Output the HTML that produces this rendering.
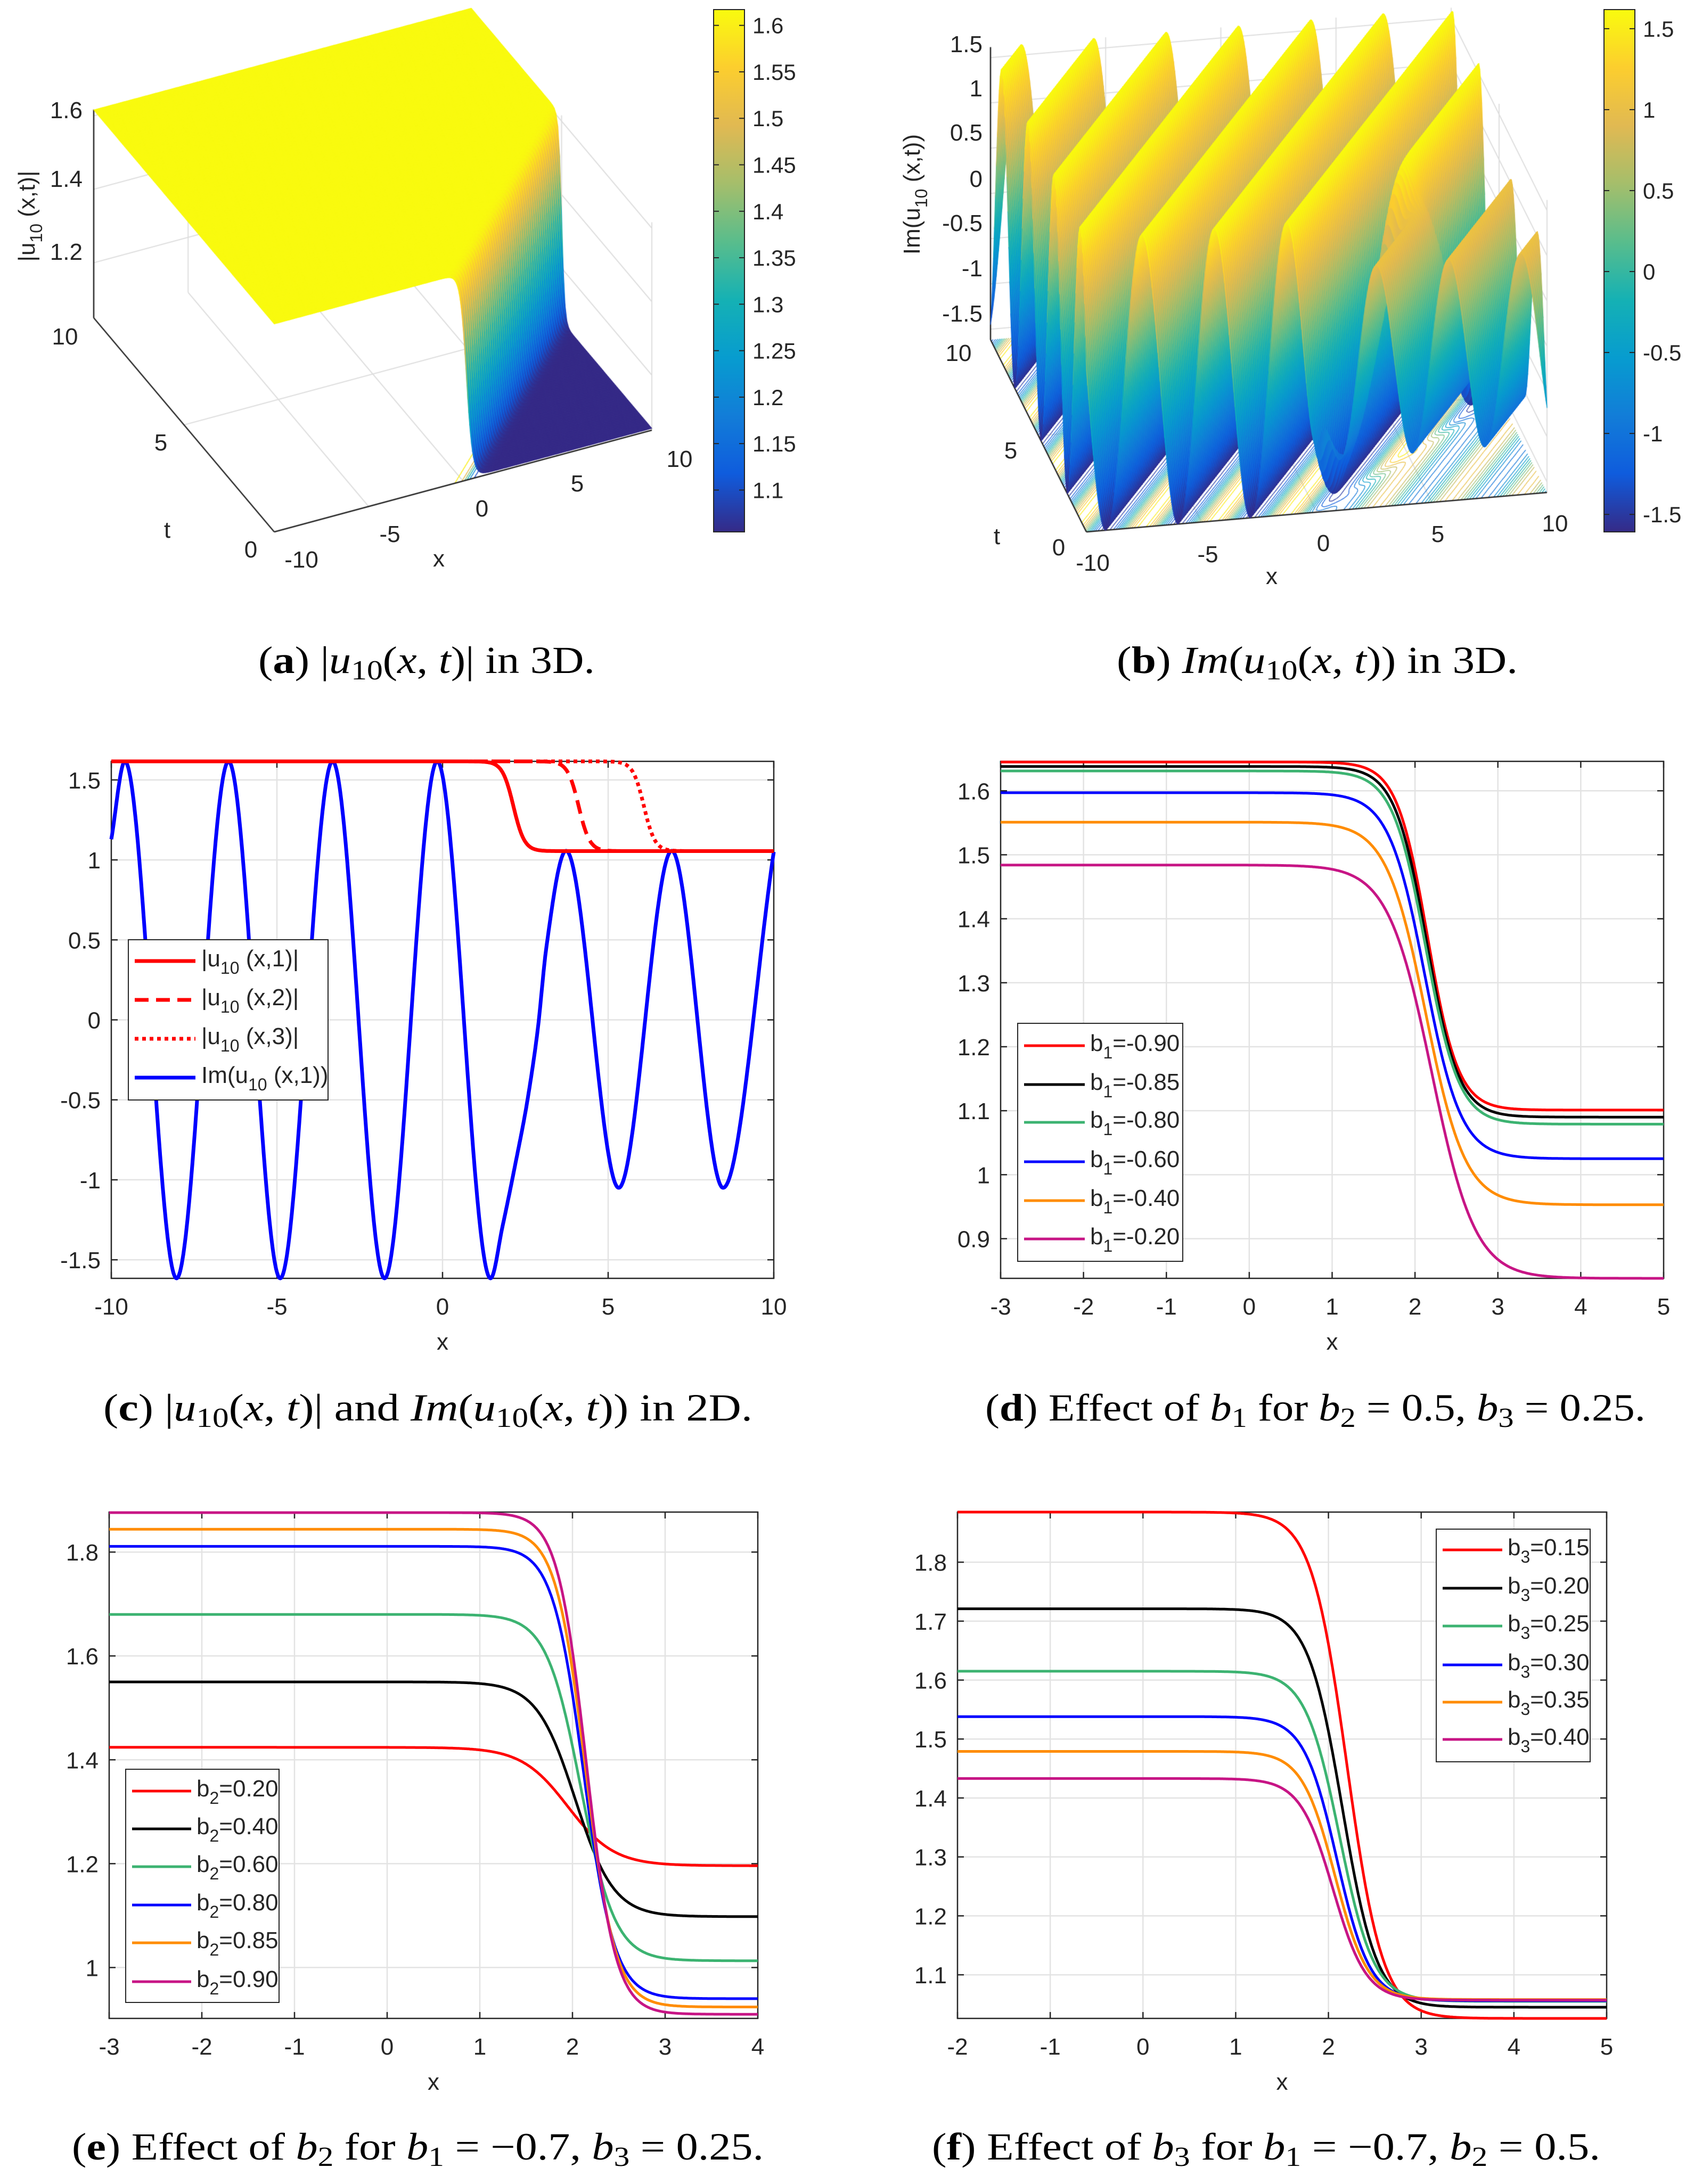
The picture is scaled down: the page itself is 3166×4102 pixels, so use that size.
<!DOCTYPE html>
<html><head><meta charset="utf-8"><title>u10 figure</title>
<style>
html,body{margin:0;padding:0;background:#fff;}
#wrap{position:relative;width:3166px;height:4102px;overflow:hidden;background:#fff;}
canvas{position:absolute;top:0;}
#fig{position:absolute;left:0;top:0;}
text{font-family:"Liberation Sans",sans-serif;fill:#262626;}
.cap{font-family:"Liberation Serif",serif;fill:#000;font-size:72px;}
</style></head>
<body>
<div id="wrap">
<canvas id="cva" width="1600" height="1300" style="left:0px"></canvas>
<canvas id="cvb" width="1566" height="1300" style="left:1600px"></canvas>
<svg id="fig" xmlns="http://www.w3.org/2000/svg" width="3166" height="4102">
<text class="cap" x="485" y="1264" textLength="632" lengthAdjust="spacingAndGlyphs">(<tspan font-weight="bold">a</tspan>) |<tspan font-style="italic">u</tspan><tspan font-size="52" dy="12">10</tspan><tspan dy="-12">(</tspan><tspan font-style="italic">x</tspan>, <tspan font-style="italic">t</tspan>)| in 3D.</text>
<text class="cap" x="2097" y="1264" textLength="753" lengthAdjust="spacingAndGlyphs">(<tspan font-weight="bold">b</tspan>) <tspan font-style="italic">Im</tspan>(<tspan font-style="italic">u</tspan><tspan font-size="52" dy="12">10</tspan><tspan dy="-12">(</tspan><tspan font-style="italic">x</tspan>, <tspan font-style="italic">t</tspan>)) in 3D.</text>
<text class="cap" x="194" y="2668" textLength="1219" lengthAdjust="spacingAndGlyphs">(<tspan font-weight="bold">c</tspan>) |<tspan font-style="italic">u</tspan><tspan font-size="52" dy="12">10</tspan><tspan dy="-12">(</tspan><tspan font-style="italic">x</tspan>, <tspan font-style="italic">t</tspan>)| and <tspan font-style="italic">Im</tspan>(<tspan font-style="italic">u</tspan><tspan font-size="52" dy="12">10</tspan><tspan dy="-12">(</tspan><tspan font-style="italic">x</tspan>, <tspan font-style="italic">t</tspan>)) in 2D.</text>
<text class="cap" x="1850" y="2668" textLength="1240" lengthAdjust="spacingAndGlyphs">(<tspan font-weight="bold">d</tspan>) Effect of <tspan font-style="italic">b</tspan><tspan font-size="52" dy="12">1</tspan><tspan dy="-12"> for </tspan><tspan font-style="italic">b</tspan><tspan font-size="52" dy="12">2</tspan><tspan dy="-12"> = 0.5,  </tspan><tspan font-style="italic">b</tspan><tspan font-size="52" dy="12">3</tspan><tspan dy="-12"> = 0.25.</tspan></text>
<text class="cap" x="135" y="4056" textLength="1299" lengthAdjust="spacingAndGlyphs">(<tspan font-weight="bold">e</tspan>) Effect of <tspan font-style="italic">b</tspan><tspan font-size="52" dy="12">2</tspan><tspan dy="-12"> for </tspan><tspan font-style="italic">b</tspan><tspan font-size="52" dy="12">1</tspan><tspan dy="-12"> = −0.7,  </tspan><tspan font-style="italic">b</tspan><tspan font-size="52" dy="12">3</tspan><tspan dy="-12"> = 0.25.</tspan></text>
<text class="cap" x="1750" y="4056" textLength="1255" lengthAdjust="spacingAndGlyphs">(<tspan font-weight="bold">f</tspan>) Effect of <tspan font-style="italic">b</tspan><tspan font-size="52" dy="12">3</tspan><tspan dy="-12"> for </tspan><tspan font-style="italic">b</tspan><tspan font-size="52" dy="12">1</tspan><tspan dy="-12"> = −0.7,  </tspan><tspan font-style="italic">b</tspan><tspan font-size="52" dy="12">2</tspan><tspan dy="-12"> = 0.5.</tspan></text>
</svg>
</div>
<script>
// ---------- data ----------
const cImX=[-10,-9.59,-8.03,-6.46,-4.90,-3.32,-1.75,-0.16,1.45,1.81,2.22,2.55,2.88,3.13,3.73,5.32,6.92,8.47,10];
const cImY=[1.129,1.616,-1.616,1.616,-1.616,1.616,-1.616,1.616,-1.616,-1.292,-0.878,-0.519,-0.05,0.446,1.057,-1.05,1.057,-1.05,1.05];
const cAbsLeft=[1.616,1.616,1.616];
const cAbsRight=[1.055,1.055,1.055];
const cAbsCenter=[2.14,4.11,6.08];
const cAbsSteep=[3,3,3];
const cLegendTimes=[1,2,3];
const dB1=[-0.90,-0.85,-0.80,-0.60,-0.40,-0.20];
const dLeft=[1.645,1.638,1.631,1.597,1.551,1.484];
const dRight=[1.101,1.090,1.079,1.025,0.953,0.838];
const dCenter=[2.15,2.14,2.13,2.12,2.13,2.20];
const dSteep=[2.7,2.6,2.5,2.3,2.1,1.9];
const eB2=[0.20,0.40,0.60,0.80,0.85,0.90];
const eLeft=[1.424,1.550,1.680,1.811,1.844,1.876];
const eRight=[1.196,1.098,1.013,0.940,0.924,0.910];
const eCenter=[1.95,2.03,2.09,2.12,2.14,2.15];
const eSteep=[2.0,2.4,2.7,3.0,3.1,3.2];
const fB3=[0.15,0.20,0.25,0.30,0.35,0.40];
const fLeft=[1.885,1.721,1.615,1.538,1.479,1.433];
const fRight=[1.026,1.045,1.055,1.056,1.058,1.057];
const fCenter=[2.20,2.15,2.12,2.09,2.07,2.05];
const fSteep=[2.6,2.7,2.7,2.8,2.8,2.8];
const cXTicks=[-10,-5,0,5,10], cYTicks=[-1.5,-1,-0.5,0,0.5,1,1.5];
const dXTicks=[-3,-2,-1,0,1,2,3,4,5], dYTicks=[0.9,1,1.1,1.2,1.3,1.4,1.5,1.6];
const eXTicks=[-3,-2,-1,0,1,2,3,4], eYTicks=[1,1.2,1.4,1.6,1.8];
const fXTicks=[-2,-1,0,1,2,3,4,5], fYTicks=[1.1,1.2,1.3,1.4,1.5,1.6,1.7,1.8];
const surfHigh=[1.616], surfLow=[1.055];
const stepOffset=[0.17], stepSpeed=[1.97], stepSteep=[3];
const crestSpeed=[1.15], phaseShift=[1.5];
const aBarTicks=[1.1,1.15,1.2,1.25,1.3,1.35,1.4,1.45,1.5,1.55,1.6];
const bBarTicks=[-1.5,-1,-0.5,0,0.5,1,1.5];

const COLS=['#ff0000','#000000','#3cb371','#0000ff','#ff8c00','#c71585'];
const NS='http://www.w3.org/2000/svg';
const svg=document.getElementById('fig');

function mk(tag,attrs,name,parent){
  const el=document.createElementNS(NS,tag);
  for(const k in attrs) el.setAttribute(k,attrs[k]);
  
  
  (parent||svg).appendChild(el);
  return el;
}
function fmt(v){return String(+v.toFixed(2));}
function step(x,L,R,c,k){return R+(L-R)*(1-Math.tanh(k*(x-c)))/2;}
function mono(xs,ys){
  const n=xs.length,d=[],m=new Array(n);
  for(let i=0;i<n-1;i++)d.push((ys[i+1]-ys[i])/(xs[i+1]-xs[i]));
  m[0]=d[0];m[n-1]=d[n-2];
  for(let i=1;i<n-1;i++)m[i]=(d[i-1]*d[i]<=0)?0:(d[i-1]+d[i])/2;
  for(let i=0;i<n-1;i++){
    if(d[i]===0){m[i]=0;m[i+1]=0;continue;}
    const a=m[i]/d[i],b=m[i+1]/d[i],s=a*a+b*b;
    if(s>9){const t=3/Math.sqrt(s);m[i]=t*a*d[i];m[i+1]=t*b*d[i];}
  }
  return function(x){
    let i=0;while(i<n-2&&x>xs[i+1])i++;
    const h=xs[i+1]-xs[i],t=(x-xs[i])/h,t2=t*t,t3=t2*t;
    return (2*t3-3*t2+1)*ys[i]+(t3-2*t2+t)*h*m[i]+(-2*t3+3*t2)*ys[i+1]+(t3-t2)*h*m[i+1];
  };
}

function axes2d(p,name){
  const g=mk('g',{},name);
  const sx=v=>p.L+(v-p.x0)/(p.x1-p.x0)*(p.R-p.L);
  const sy=v=>p.B-(v-p.y0)/(p.y1-p.y0)*(p.B-p.T);
  p.xt.forEach(v=>{const X=sx(v);if(X>p.L+2&&X<p.R-2){
    mk('line',{x1:X,y1:p.T,x2:X,y2:p.B,stroke:'#e3e3e3','stroke-width':2.5},'x-gridline',g);}});
  p.yt.forEach(v=>{const Y=sy(v);if(Y>p.T+2&&Y<p.B-2){
    mk('line',{x1:p.L,y1:Y,x2:p.R,y2:Y,stroke:'#e3e3e3','stroke-width':2.5},'y-gridline',g);}});
  mk('rect',{x:p.L,y:p.T,width:p.R-p.L,height:p.B-p.T,fill:'none',stroke:'#262626','stroke-width':2.5},'axes-box',g);
  const tl=12;
  p.xt.forEach(v=>{const X=sx(v);
    mk('line',{x1:X,y1:p.B,x2:X,y2:p.B-tl,stroke:'#262626','stroke-width':2.5},'x-tick',g);
    mk('line',{x1:X,y1:p.T,x2:X,y2:p.T+tl,stroke:'#262626','stroke-width':2.5},'x-tick-top',g);
    const t=mk('text',{x:X,y:p.B+68,'text-anchor':'middle','font-size':44},'x-tick-label',g);t.textContent=fmt(v);});
  p.yt.forEach(v=>{const Y=sy(v);
    mk('line',{x1:p.L,y1:Y,x2:p.L+tl,y2:Y,stroke:'#262626','stroke-width':2.5},'y-tick',g);
    mk('line',{x1:p.R,y1:Y,x2:p.R-tl,y2:Y,stroke:'#262626','stroke-width':2.5},'y-tick-right',g);
    const t=mk('text',{x:p.L-20,y:Y+16,'text-anchor':'end','font-size':44},'y-tick-label',g);t.textContent=fmt(v);});
  const xl=mk('text',{x:(p.L+p.R)/2,y:p.B+134,'text-anchor':'middle','font-size':44},'x-axis-title',g);xl.textContent='x';
  return {sx,sy,g};
}
function curve(ax,fn,x0,x1,stroke,w,dash,name){
  let d='';const N=800;
  for(let i=0;i<=N;i++){const x=x0+(x1-x0)*i/N;d+=(i?'L':'M')+ax.sx(x).toFixed(1)+' '+ax.sy(fn(x)).toFixed(1);}
  const a={d:d,fill:'none',stroke:stroke,'stroke-width':w,'stroke-linejoin':'round'};
  if(dash)a['stroke-dasharray']=dash;
  return mk('path',a,name,ax.g);
}
function legend(box,entries,name){
  const g=mk('g',{},name);
  mk('rect',{x:box.x0,y:box.y0,width:box.x1-box.x0,height:box.y1-box.y0,fill:'#fff',stroke:'#262626','stroke-width':2},'legend-box',g);
  entries.forEach((e,i)=>{
    const y=box.ys[i];
    const a={x1:box.lx0,y1:y,x2:box.lx1,y2:y,stroke:e.c,'stroke-width':e.w};
    if(e.dash)a['stroke-dasharray']=e.dash;
    mk('line',a,'legend-swatch',g);
    const t=mk('text',{x:box.tx,y:y+10,'font-size':44},'legend-entry',g);
    t.innerHTML=e.pre+'<tspan font-size="32" dy="14">'+e.sub+'</tspan><tspan dy="-14">'+e.post+'</tspan>';
  });
}

(function(){
  const ax=axes2d({L:209,R:1453,T:1430,B:2401,x0:-10,x1:10,y0:-1.616,y1:1.616,xt:cXTicks,yt:cYTicks},'panel-c-axes');
  const dashes=[null,'26 14','7 7'];
  const fIm=mono(cImX,cImY);
  curve(ax,fIm,-10,10,'#0000ff',7,null,'im-u10-t1-line');
  cAbsCenter.forEach((c,i)=>{curve(ax,x=>step(x,cAbsLeft[i],cAbsRight[i],c,cAbsSteep[i]),-10,10,'#ff0000',7,dashes[i],'abs-u10-t'+cLegendTimes[i]+'-line');});
  const ents=cLegendTimes.map((t,i)=>({c:'#ff0000',w:7,dash:dashes[i],pre:'|u',sub:'10',post:' (x,'+t+')|'}));
  ents.push({c:'#0000ff',w:7,dash:null,pre:'Im(u',sub:'10',post:' (x,1))'});
  legend({x0:241,x1:616,y0:1765,y1:2066,ys:[1805,1878,1951,2024],lx0:253,lx1:367,tx:378},ents,'legend-c');
})();
(function(){
  const ax=axes2d({L:1879,R:3124,T:1430,B:2401,x0:-3,x1:5,y0:0.838,y1:1.646,xt:dXTicks,yt:dYTicks},'panel-d-axes');
  dB1.forEach((b,i)=>curve(ax,x=>step(x,dLeft[i],dRight[i],dCenter[i],dSteep[i]),-3,5,COLS[i],5,null,'b1-'+fmt(b)+'-line'));
  legend({x0:1911,x1:2221,y0:1922,y1:2369,ys:[1964,2037,2108,2182,2255,2327],lx0:1923,lx1:2037,tx:2047},
    dB1.map((b,i)=>({c:COLS[i],w:5,pre:'b',sub:'1',post:'='+b.toFixed(2)})),'legend-d');
})();
(function(){
  const ax=axes2d({L:205,R:1423,T:2840,B:3791,x0:-3,x1:4,y0:0.902,y1:1.877,xt:eXTicks,yt:eYTicks},'panel-e-axes');
  eB2.forEach((b,i)=>curve(ax,x=>step(x,eLeft[i],eRight[i],eCenter[i],eSteep[i]),-3,4,COLS[i],5,null,'b2-'+fmt(b)+'-line'));
  legend({x0:236,x1:524,y0:3323,y1:3761,ys:[3364,3435,3506,3578,3649,3722],lx0:248,lx1:359,tx:369},
    eB2.map((b,i)=>({c:COLS[i],w:5,pre:'b',sub:'2',post:'='+b.toFixed(2)})),'legend-e');
})();
(function(){
  const ax=axes2d({L:1798,R:3017,T:2840,B:3791,x0:-2,x1:5,y0:1.026,y1:1.885,xt:fXTicks,yt:fYTicks},'panel-f-axes');
  fB3.forEach((b,i)=>curve(ax,x=>step(x,fLeft[i],fRight[i],fCenter[i],fSteep[i]),-2,5,COLS[i],5,null,'b3-'+fmt(b)+'-line'));
  legend({x0:2697,x1:2986,y0:2872,y1:3309,ys:[2911,2983,3054,3127,3197,3267],lx0:2709,lx1:2821,tx:2831},
    fB3.map((b,i)=>({c:COLS[i],w:5,pre:'b',sub:'3',post:'='+b.toFixed(2)})),'legend-f');
})();

const PAR=[[53,42,135],[15,92,221],[18,125,216],[7,156,207],[21,177,180],[89,189,140],[165,190,107],[225,185,82],[252,206,46],[249,251,14]];
function parula(f){
  f=Math.max(0,Math.min(1,f));const s=f*(PAR.length-1),i=Math.min(PAR.length-2,Math.floor(s)),u=s-i;
  const a=PAR[i],b=PAR[i+1];
  return 'rgb('+Math.round(a[0]+(b[0]-a[0])*u)+','+Math.round(a[1]+(b[1]-a[1])*u)+','+Math.round(a[2]+(b[2]-a[2])*u)+')';
}
function absU(x,t){return step(x,surfHigh[0],surfLow[0],stepOffset[0]+stepSpeed[0]*t,stepSteep[0]);}
function imU(x,t){
  const xs=stepOffset[0]+stepSpeed[0]*t,w=(1+Math.tanh(stepSteep[0]*(x-xs)))/2;
  const A=surfLow[0]*w+surfHigh[0]*(1-w);
  return A*Math.cos(2*(x+0.16-crestSpeed[0]*(t-1))-phaseShift[0]*w);
}
function render3d(ctx,fn,proj,dep,cmin,cmax,levels,zfloor,grid,clw){
  ctx.strokeStyle='#dedede';ctx.lineWidth=2;
  grid.forEach(s=>{ctx.beginPath();const p=proj(...s[0]),q=proj(...s[1]);ctx.moveTo(p[0],p[1]);ctx.lineTo(q[0],q[1]);ctx.stroke();});
  const dx=0.1,dt=0.1;ctx.lineWidth=clw;ctx.globalAlpha=0.85;
  for(let x=-10;x<10-1e-9;x+=dx)for(let t=0;t<10-1e-9;t+=dt){
    const v=[fn(x,t),fn(x+dx,t),fn(x+dx,t+dt),fn(x,t+dt)],P=[[x,t],[x+dx,t],[x+dx,t+dt],[x,t+dt]];
    levels.forEach(L=>{
      const pts=[];
      for(let e=0;e<4;e++){const a=v[e]-L,b=v[(e+1)%4]-L;if(a*b<0){const u=a/(a-b);const A=P[e],B=P[(e+1)%4];pts.push([A[0]+(B[0]-A[0])*u,A[1]+(B[1]-A[1])*u]);}}
      if(pts.length>=2){ctx.strokeStyle=parula((L-cmin)/(cmax-cmin));ctx.beginPath();
        let p=proj(pts[0][0],pts[0][1],zfloor),q=proj(pts[1][0],pts[1][1],zfloor);ctx.moveTo(p[0],p[1]);ctx.lineTo(q[0],q[1]);
        if(pts.length===4){p=proj(pts[2][0],pts[2][1],zfloor);q=proj(pts[3][0],pts[3][1],zfloor);ctx.moveTo(p[0],p[1]);ctx.lineTo(q[0],q[1]);}
        ctx.stroke();}
    });
  }
  ctx.globalAlpha=1;
  ctx.strokeStyle='#262626';ctx.lineWidth=2.5;
  [[[-10,10,zfloor],[-10,0,zfloor]],[[-10,0,zfloor],[10,0,zfloor]],[[-10,10,zfloor],[-10,10,cmax]]].forEach(s=>{
    ctx.beginPath();const p=proj(...s[0]),q=proj(...s[1]);ctx.moveTo(p[0],p[1]);ctx.lineTo(q[0],q[1]);ctx.stroke();});
  const SX=0.05,ST=0.1,quads=[];
  for(let i=0;i<400;i++)for(let j=0;j<100;j++){const x=-10+i*SX,t=j*ST;quads.push([dep(x+SX/2,t+ST/2),x,t]);}
  quads.sort((a,b)=>b[0]-a[0]);
  ctx.lineWidth=1.2;ctx.lineJoin='round';
  quads.forEach(q=>{
    const x=q[1],t=q[2];
    const z=[fn(x,t),fn(x+SX,t),fn(x+SX,t+ST),fn(x,t+ST)];
    const c=parula(((z[0]+z[1]+z[2]+z[3])/4-cmin)/(cmax-cmin));
    const p=[proj(x,t,z[0]),proj(x+SX,t,z[1]),proj(x+SX,t+ST,z[2]),proj(x,t+ST,z[3])];
    ctx.fillStyle=c;ctx.strokeStyle=c;ctx.beginPath();ctx.moveTo(p[0][0],p[0][1]);
    for(let k=1;k<4;k++)ctx.lineTo(p[k][0],p[k][1]);ctx.closePath();ctx.fill();ctx.stroke();
  });
}
(function(){
  const ctx=document.getElementById('cva').getContext('2d');
  const zf=1.05;
  const proj=(x,t,z)=>[515+(x+10)*35.45-t*33.9,999-(x+10)*9.55-t*40.2-(z-zf)*690];
  const grid=[];
  [-5,0,5].forEach(x=>grid.push([[x,0,zf],[x,10,zf]]));
  grid.push([[-10,5,zf],[10,5,zf]]);
  [1.2,1.4,1.6].forEach(z=>{grid.push([[-10,10,z],[10,10,z]]);grid.push([[10,0,z],[10,10,z]]);});
  [-5,0,5,10].forEach(x=>grid.push([[x,10,zf],[x,10,1.616]]));
  [0,5].forEach(t=>grid.push([[10,t,zf],[10,t,1.616]]));
  render3d(ctx,absU,proj,(x,t)=>9.55*x+40.2*t,1.055,1.617,[1.1,1.2,1.3,1.4,1.5,1.6],zf,grid,2);
})();
(function(){
  const ctx=document.getElementById('cvb').getContext('2d');
  const zf=-1.616;
  const proj=(x,t,z)=>[440+(x+10)*43.25-t*18,999-(x+10)*3.7-t*36.1-(z-zf)*170];
  const grid=[];
  [-5,0,5].forEach(x=>grid.push([[x,0,zf],[x,10,zf]]));
  grid.push([[-10,5,zf],[10,5,zf]]);
  [-1.5,-1,-0.5,0,0.5,1,1.5].forEach(z=>{grid.push([[-10,10,z],[10,10,z]]);grid.push([[10,0,z],[10,10,z]]);});
  [-5,0,5,10].forEach(x=>grid.push([[x,10,zf],[x,10,1.616]]));
  [0,5].forEach(t=>grid.push([[10,t,zf],[10,t,1.616]]));
  const lv=[];for(let v=-1.5;v<=1.51;v+=0.25)lv.push(v);
  render3d(ctx,imU,proj,(x,t)=>3.7*x+36.1*t,-1.616,1.616,lv,zf,grid,1.6);
})();

function lab(x,y,s,anchor,name,rot){
  const a={x:x,y:y+15,'text-anchor':anchor||'middle','font-size':44};
  if(rot)a.transform='rotate(-90 '+x+' '+y+')';
  const t=mk('text',a,name);t.innerHTML=s;return t;
}
const SUB='<tspan font-size="32" dy="14">10</tspan><tspan dy="-14">';
lab(155,207,'1.6','end','z-tick-label');lab(155,336,'1.4','end','z-tick-label');lab(155,473,'1.2','end','z-tick-label');
lab(122,632,'10','middle','t-tick-label');lab(302,831,'5','middle','t-tick-label');lab(471,1032,'0','middle','t-tick-label');
lab(314,995,'t','middle','t-axis-title');
[['-10',566,1051],['-5',732,1003],['0',905,955],['5',1084,908],['10',1276,862]].forEach(a=>lab(a[1],a[2],a[0],'middle','x-tick-label'));
lab(824,1049,'x','middle','x-axis-title');
lab(50,406,'|u'+SUB+' (x,t)|</tspan>','middle','z-axis-title',true);
[['1.5',83],['1',166],['0.5',249],['0',336],['-0.5',419],['-1',504],['-1.5',589]].forEach(a=>lab(1845,a[1],a[0],'end','z-tick-label'));
lab(1800,663,'10','middle','t-tick-label');lab(1898,846,'5','middle','t-tick-label');lab(1988,1028,'0','middle','t-tick-label');
lab(1872,1007,'t','middle','t-axis-title');
[['-10',2052,1057],['-5',2268,1041],['0',2485,1020],['5',2700,1003],['10',2920,983]].forEach(a=>lab(a[1],a[2],a[0],'middle','x-tick-label'));
lab(2388,1082,'x','middle','x-axis-title');
lab(1712,365,'Im(u'+SUB+' (x,t))</tspan>','middle','z-axis-title',true);

function colorbar(x0,x1,y0,y1,vmin,vmax,ticks,name){
  const g=mk('g',{},name);
  const defs=mk('defs',{},'colorbar-defs',g);
  const lg=mk('linearGradient',{id:name+'-grad',x1:0,y1:1,x2:0,y2:0},'colorbar-gradient',defs);
  PAR.forEach((c,i)=>{mk('stop',{offset:(i/(PAR.length-1)),'stop-color':'rgb('+c.join(',')+')'},'gradient-stop',lg);});
  mk('rect',{x:x0,y:y0,width:x1-x0,height:y1-y0,fill:'url(#'+name+'-grad)',stroke:'#262626','stroke-width':2},'colorbar-rect',g);
  ticks.forEach(v=>{const Y=y1-(v-vmin)/(vmax-vmin)*(y1-y0);
    mk('line',{x1:x0,y1:Y,x2:x0+10,y2:Y,stroke:'#262626','stroke-width':2},'colorbar-tick',g);
    mk('line',{x1:x1,y1:Y,x2:x1-10,y2:Y,stroke:'#262626','stroke-width':2},'colorbar-tick',g);
    const t=mk('text',{x:x1+15,y:Y+15,'font-size':42},'colorbar-tick-label',g);t.textContent=fmt(v);});
}
colorbar(1340,1398,18,999,1.055,1.617,aBarTicks,'colorbar-a');
colorbar(3012,3070,18,999,-1.608,1.618,bBarTicks,'colorbar-b');
</script>
</body></html>
